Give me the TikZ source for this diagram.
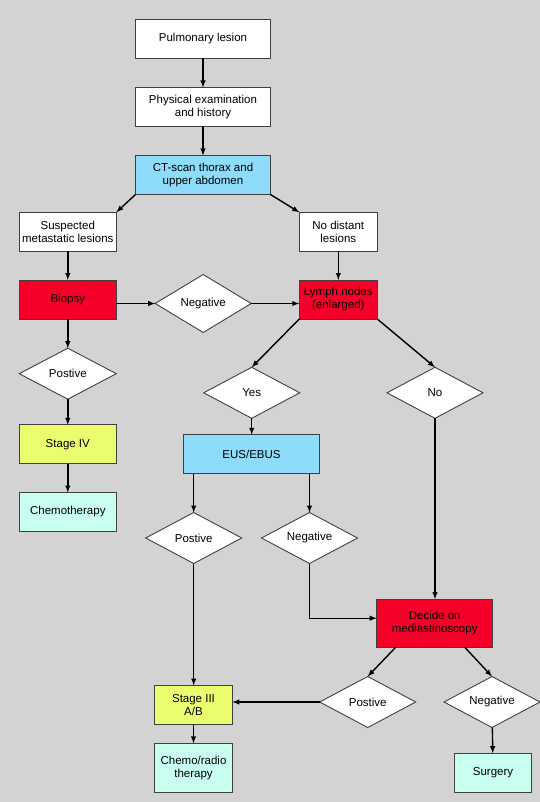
\documentclass[tikz,border=0pt]{standalone}
\usepackage{tikz}
\usetikzlibrary{arrows,shapes.geometric}
\usepackage{fontspec}
\setmainfont{Liberation Sans}
\definecolor{bgray}{RGB}{211,211,211}
\definecolor{redbox}{RGB}{245,0,40}
\definecolor{bluebox}{RGB}{140,220,250}
\definecolor{yellowbox}{RGB}{235,252,110}
\definecolor{cyanbox}{RGB}{200,255,240}

\begin{document}
\begin{tikzpicture}[x=1pt,y=-1pt]
\tikzstyle{box} = [draw=black!75,line width=0.9pt,shape=rectangle,align=center,inner sep=1pt,outer sep=0pt,font=\fontsize{11.5}{13}\selectfont,node distance=68pt]
\tikzstyle{test} = [draw=black!75,line width=0.9pt,fill=white,shape=diamond,aspect=2,minimum width=96pt,minimum height=51pt,inner sep=0pt,outer sep=0pt,font=\fontsize{11.5}{13}\selectfont]
\tikzstyle{flow} = [-latex,line width=1.4pt]

\useasboundingbox (0,0) rectangle (540,802);
\fill[bgray] (0,0) rectangle (540,802);

\node[box,fill=white,minimum width=135pt,minimum height=39pt] (pul) at (203,39) {Pulmonary lesion};
\node[box,fill=white,minimum width=135pt,minimum height=39pt,below of=pul] (phys) {Physical examination\\and history};
\node[box,fill=bluebox,minimum width=135pt,minimum height=39pt,below of=phys] (ct) {CT-scan thorax and\\upper abdomen};

\node[box,fill=white,minimum width=97pt,minimum height=39pt] (susp) at (67.8,231.8) {Suspected\\metastatic lesions};
\node[box,fill=white,minimum width=78pt,minimum height=39pt] (nodist) at (338.3,231.8) {No distant\\lesions};
\node[box,fill=redbox,minimum width=97pt,minimum height=39pt] (biopsy) at (67.8,299.5) {Biopsy};
\node[test,minimum height=58pt] (neg1) at (203.2,303.5) {Negative};
\node[box,fill=redbox,minimum width=78pt,minimum height=39pt] (lymph) at (338.3,299.5) {Lymph nodes\\(enlarged)};

\node[test,minimum width=97pt] (pos1) at (67.8,373.7) {Postive};
\node[box,fill=yellowbox,minimum width=97pt,minimum height=39pt] (stage4) at (67.8,444.3) {Stage IV};
\node[box,fill=cyanbox,minimum width=97pt,minimum height=39pt] (chemo) at (67.8,512) {Chemotherapy};

\node[test] (yes) at (251.7,392.8) {Yes};
\node[test] (no) at (435,392.8) {No};
\node[box,fill=bluebox,minimum width=135.6pt,minimum height=39pt] (eus) at (251.5,454.3) {EUS/EBUS};
\node[test] (pos2) at (193.7,538) {Postive};
\node[test] (neg2) at (309.5,538) {Negative};
\node[box,fill=redbox,minimum width=116pt,minimum height=48pt] (decide) at (434.7,623.2) {Decide on\\mediastinoscopy};

\node[test] (pos3) at (367.7,702) {Postive};
\node[test] (neg3) at (492,702) {Negative};
\node[box,fill=yellowbox,minimum width=77.6pt,minimum height=39pt] (stage3) at (193.5,705) {Stage III\\A/B};
\node[box,fill=cyanbox,minimum width=77.6pt,minimum height=49pt] (chemrad) at (193.5,767.8) {Chemo/radio\\therapy};
\node[box,fill=cyanbox,minimum width=77.4pt,minimum height=39pt] (surgery) at (493,772.7) {Surgery};

\draw[flow] (pul) -- (phys);
\draw[flow] (phys) -- (ct);
\draw[flow] (ct.south west) -- (susp.north east);
\draw[flow] (ct.south east) -- (nodist.north west);
\draw[flow] (susp) -- (biopsy);
\draw[flow] (nodist) -- (lymph);
\draw[flow] (biopsy.east |- neg1.west) -- (neg1.west);
\draw[flow] (neg1.east) -- (lymph.west |- neg1.east);
\draw[flow] (biopsy) -- (pos1);
\draw[flow] (pos1) -- (stage4);
\draw[flow] (stage4) -- (chemo);
\draw[flow] (lymph.south west) -- (yes.north);
\draw[flow] (lymph.south east) -- (no.north);
\draw[flow] (yes.south) -- (yes.south |- eus.north);
\draw[flow] (eus.south -| pos2.north) -- (pos2.north);
\draw[flow] (eus.south -| neg2.north) -- (neg2.north);
\draw[flow] (no.south) -- (no.south |- decide.north);
\draw[flow] (neg2.south) |- ([yshift=5pt]decide.west);
\draw[flow] (pos2.south) -- (pos2.south |- stage3.north);
\draw[flow] ([xshift=19pt]decide.south west) -- (pos3.north);
\draw[flow] ([xshift=-28pt]decide.south east) -- (neg3.north);
\draw[flow] (pos3.west) -- (pos3.west -| stage3.east);
\draw[flow] (stage3) -- (chemrad);
\draw[flow] (neg3) -- (surgery);

\end{tikzpicture}
\end{document}
